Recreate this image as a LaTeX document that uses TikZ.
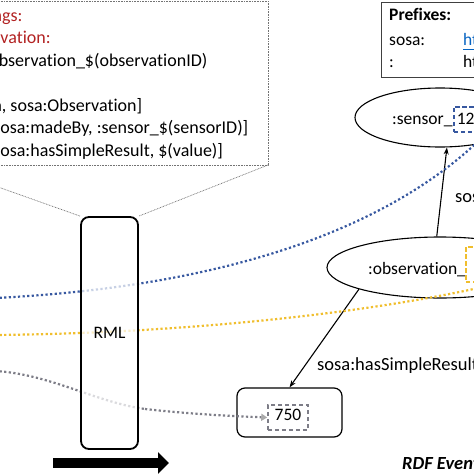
\documentclass[tikz,border=0pt]{standalone}
\usepackage{fontspec}
\setmainfont{Carlito}[Ligatures=NoCommon]
\usetikzlibrary{arrows.meta,shapes.geometric}
\definecolor{mapred}{RGB}{178,34,34}
\definecolor{flowblue}{RGB}{55,88,160}
\definecolor{flowyellow}{RGB}{240,190,45}
\definecolor{flowgray}{RGB}{125,125,135}
\definecolor{tipgray}{RGB}{170,170,170}
\definecolor{linkblue}{RGB}{5,99,193}
\newcommand\dgmfont{\fontsize{17.5}{21}\selectfont}
\newcommand\lblfont{\fontsize{18.5}{22}\selectfont}
\newcommand\codefont{\fontsize{18}{22}\selectfont}
\begin{document}
\begin{tikzpicture}[x=1pt,y=-1pt,
  every node/.style={font=\dgmfont, inner sep=0pt},
  flow/.style={line width=2.2pt, dash pattern=on 2.2pt off 2.4pt},
  callout/.style={draw=black!55, line width=0.7pt, dash pattern=on 0.8pt off 0.8pt},
  codeline/.style={anchor=base west, font=\codefont},
  txt/.style={anchor=base west},
  conn/.style={line width=1.1pt, -{Stealth[length=7pt,width=5pt]}},
  idbox/.style={line width=1.5pt, dash pattern=on 4.5pt off 2.5pt}]
\useasboundingbox (0,0) rectangle (474,474);
\clip (0,0) rectangle (474,474);

% mapping callout text
\node[codeline, text=mapred] (c1) at (-53.5,21) {mappings:};
\node[codeline, text=mapred] (c2) at (-41,43.5) {observation:};
\node[codeline] (c3) at (-33,66) {s: :observation\_\$(observationID)};
\node[codeline] (c5) at (-22,111) {- [a, sosa:Observation]};
\node[codeline] (c6) at (-22,133.5) {- [sosa:madeBy, :sensor\_\$(sensorID)]};
\node[codeline] (c7) at (-22,156) {- [sosa:hasSimpleResult, \$(value)]};

% prefixes
\node[draw=black!75, line width=1.2pt, minimum width=110pt, minimum height=75pt, anchor=north west] (pfx) at (381,2) {};
\node[txt, font=\dgmfont\bfseries] (pt) at (389,20) {Prefixes:};
\node[txt] (ps) at (389,45) {sosa:};
\node[txt] (pe) at (389,67) {:};
\node[txt, text=linkblue] (pu1) at (463,45) {\underline{http://www.w3.org/ns/sosa/}};
\node[txt] (pu2) at (463,67) {http://example.org/};

% sensor
\node[draw, ellipse, line width=1.1pt, minimum width=170pt, minimum height=59pt] (sens) at (440,117.5) {};
\node[txt] (senst) at (392,124) {:sensor\_};
\node[txt, draw=flowblue, idbox, text height=12pt, text depth=3pt, inner ysep=5pt, inner xsep=3pt] (sid) at (453,124) {123};

% observation
\node[draw, ellipse, line width=1.1pt, minimum width=226pt, minimum height=61pt] (obs) at (440,267.5) {};
\node[txt] (obst) at (368,274) {:observation\_};
\node[txt, draw=flowyellow, idbox, text height=20pt, text depth=1pt, inner ysep=7pt, minimum width=70pt] (oid) at (465,274) {};

% value
\node[draw, line width=1.2pt, rounded corners=8pt, minimum width=105pt, minimum height=49pt] (val) at (289.5,412.5) {};
\node[anchor=base, draw=flowgray, idbox, text height=13pt, text depth=8pt, inner ysep=2pt, inner xsep=6.7pt] (vbox) at (288,420) {750};

% connectors
\draw[conn] (obs.96) -- (sens.-77);
\draw[conn] (obs.195) -- (val.north);
\node[txt, font=\lblfont] (lmade) at (455,202) {sosa:madeBy};
\node[txt, font=\lblfont] (lres) at (317,370) {sosa:hasSimpleResult};

% flow lines
\coordinate (bstart) at (-5,298);
\coordinate (ystart) at (-5,335);
\coordinate (gstart) at (-5,371);
\coordinate (gmid) at (145,409);
\draw[flow, flowblue] (bstart) .. controls (300,283) and (430,190) .. (sid.south east);
\draw[flow, flowyellow] (ystart) .. controls (200,333) and (390,310) .. (oid.south);
\draw[flow, flowgray] (gstart) .. controls (50,374) and (95,402) .. (gmid);
\draw[flow, flowgray, -{Triangle[length=6pt,width=7pt,color=tipgray,fill=tipgray]}] (gmid) .. controls (190,414) and (230,416) .. (vbox.west);

% RML
\node[draw, line width=1.8pt, rounded corners=8pt, minimum width=57pt, minimum height=232pt, fill=white, fill opacity=0.72, text opacity=1] (rml) at (109.5,333) {RML};

% callout
\coordinate (cbl) at (-64,165);
\coordinate (cbr) at (268,165);
\draw[callout] (-64,1) rectangle (cbr);
\draw[callout] (cbl) -- (rml.north west);
\draw[callout] (cbr) -- (rml.north east);

% big arrow
\coordinate (ba1) at (53,463);
\coordinate (ba2) at (169,463);
\draw[line width=10pt, -{Triangle[length=11pt,width=21pt]}] (ba1) -- (ba2);

\node[txt, font=\lblfont\bfseries\itshape] (rdf) at (402,469) {RDF Event Stream};
\end{tikzpicture}
\end{document}
